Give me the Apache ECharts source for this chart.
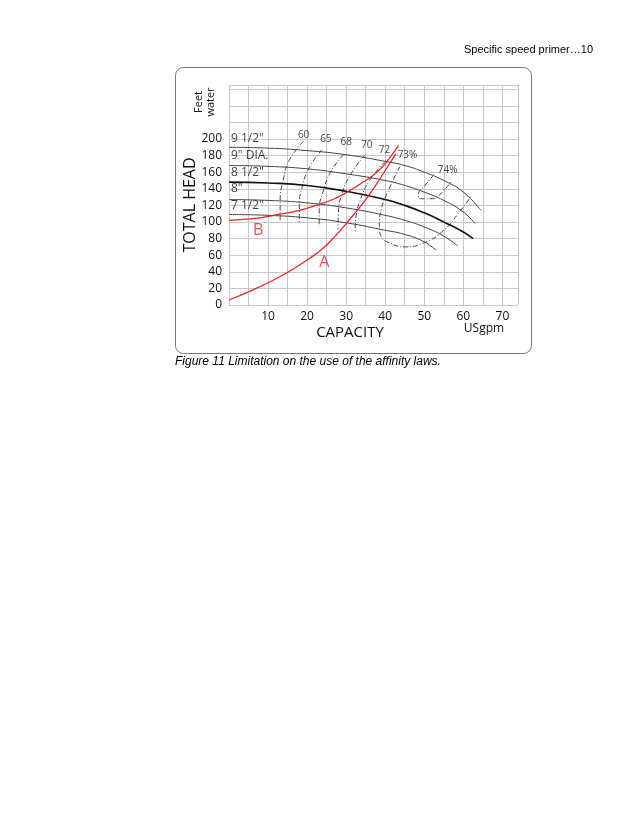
<!DOCTYPE html>
<html><head><meta charset="utf-8">
<script src="https://cdn.jsdelivr.net/npm/echarts@6/dist/echarts.min.js"></script>
<style>html,body{margin:0;padding:0;background:#fff}#c{width:638px;height:826px}</style>
</head><body><div id="c"></div>
<script>
const yTicks=[0,20,40,60,80,100,120,140,160,180,200];
const xTicks=[10,20,30,40,50,60,70];
const d95=[[0,190],[10,189],[20,186],[30,181],[40,173],[45,168],[50,160],[55,150],[60,136],[64.5,114]];
const d90=[[0,168],[10,167],[20,164],[30,158],[40,150],[45,144],[50,136],[55,126],[60,112],[63,98]];
const d85=[[0,148],[10,147],[20,144],[30,137],[40,127],[45,120],[50,111],[55,100],[60,88],[62.5,80]];
const d80=[[0,127],[10,126],[20,123],[30,117],[40,108],[45,102],[50,94],[55,83],[58.6,71]];
const d75=[[0,109],[10,108],[20,105],[30,99],[40,90],[45,85],[50,76],[53,66]];
const curveA=[[0,6],[6,18],[11.8,31],[16,42],[20.3,55],[24,68],[27.2,83],[30,98],[32.3,111],[35,127],[37.4,143],[40,162],[42.7,182]];
const curveB=[[0,102],[6,104],[12.6,109],[18,114],[22.9,121],[27,128],[30.6,137],[34,147],[36.6,155],[39,165],[40.8,175],[43.4,192]];
const e60=[[19.1,197],[15.5,175],[13.9,151],[13.1,125],[13.1,101]];
const e65=[[23.8,187],[20.5,165],[18.6,140],[18,118],[18,99]];
const e68=[[29.3,181],[26,160],[24,135],[23.1,115],[23.1,95]];
const e70=[[34.9,181],[31.5,160],[29,135],[28,110],[27.9,91]];
const e72=[[40,173],[36,150],[33.5,125],[32.5,105],[32.3,89]];
const e73=[[43.8,167],[41,140],[39,115],[38.5,95],[39,82],[41,75],[45,70],[50,75],[55,90],[59,112],[62,131]];
const e74=[[52.5,157],[50,143],[48.5,133],[49,128],[52,128],[55,138],[57,150]];
const effLabels=[["60",19.1,199],["65",24.8,194],["68",30,190],["70",35.3,186],["72",39.8,181],["73%",45.7,175],["74%",56,157]];
const diaLabels=[['9 1/2"',200],['9" DIA.',180],['8 1/2"',160],['8"',140],['7 1/2"',120]];

const F='"Open Sans", sans-serif';
const ch=echarts.init(document.getElementById('c'));
function L(data,w,c){return {type:'line',data,smooth:true,showSymbol:false,lineStyle:{width:w,color:c},z:3};}
function E(data){return {type:'line',data,smooth:true,showSymbol:false,lineStyle:{width:1,color:'#444',type:[5,2,1,2]},z:2};}
const series=[L(d95,1,'#444'),L(d90,1,'#444'),L(d85,1.6,'#111'),L(d80,1,'#444'),L(d75,1,'#444'),
E(e60),E(e65),E(e68),E(e70),E(e72),E(e73),E(e74),
L(curveA,1.3,'#e8262a'),L(curveB,1.3,'#e8262a'),
{type:'scatter',symbolSize:0,data:effLabels.map(a=>({value:[a[1],a[2]],label:{show:true,formatter:a[0],position:'top',distance:0,fontSize:10,color:'#111',fontFamily:F}}))},
{type:'scatter',symbolSize:0,data:diaLabels.map(a=>({value:[0.5,a[1]],label:{show:true,formatter:a[0],position:'right',distance:0,fontSize:12,color:'#111',fontFamily:F}}))},
{type:'scatter',symbolSize:0,data:[{value:[7.5,90],label:{show:true,formatter:'B',position:'inside',fontSize:16,color:'#e8262a',fontFamily:F}},{value:[24.4,51],label:{show:true,formatter:'A',position:'inside',fontSize:16,color:'#e8262a',fontFamily:F}}]}
];
ch.setOption({
 animation:false,
 grid:{left:229,top:85,right:120,bottom:521},
 xAxis:{type:'value',min:0,max:74,interval:5,axisLine:{show:false},axisTick:{show:false},
   splitLine:{show:true,lineStyle:{color:'#c8c8c8',width:1}},
   axisLabel:{fontSize:12,color:'#111',fontFamily:F,margin:6,showMaxLabel:false,formatter:v=>xTicks.includes(v)?String(v):''}},
 yAxis:{type:'value',min:0,max:265,interval:20,axisLine:{show:false},axisTick:{show:false},
   splitLine:{show:true,lineStyle:{color:'#c8c8c8',width:1}},
   axisLabel:{fontSize:12,color:'#111',fontFamily:F,margin:7,showMaxLabel:false,formatter:v=>yTicks.includes(v)?String(v):''}},
 series,
 graphic:[
  {type:'rect',shape:{x:175.5,y:67.5,width:356,height:286,r:8},style:{fill:'none',stroke:'#777',lineWidth:1},z:-1},
  {type:'text',x:593,y:44,style:{text:'Specific speed primer…10',fontSize:11,fontFamily:'Liberation Sans, Arial',fill:'#000',align:'right'}},
  {type:'text',x:175,y:356,style:{text:'Figure 11 Limitation on the use of the affinity laws.',fontSize:12,fontStyle:'italic',fontFamily:'Liberation Sans, Arial',fill:'#000'}},
  {type:'text',x:190,y:205,rotation:Math.PI/2,style:{text:'TOTAL HEAD',fontSize:16,fontFamily:F,fill:'#111',align:'center',verticalAlign:'middle'}},
  {type:'text',x:205,y:102,rotation:Math.PI/2,style:{text:'Feet\nwater',fontSize:11,lineHeight:12,fontFamily:F,fill:'#111',align:'center',verticalAlign:'middle'}},
  {type:'text',x:350,y:333,style:{text:'CAPACITY',fontSize:15,fontFamily:F,fill:'#111',align:'center',verticalAlign:'middle'}},
  {type:'text',x:484,y:329,style:{text:'USgpm',fontSize:12,fontFamily:F,fill:'#111',align:'center',verticalAlign:'middle'}}
 ]
});
</script></body></html>
